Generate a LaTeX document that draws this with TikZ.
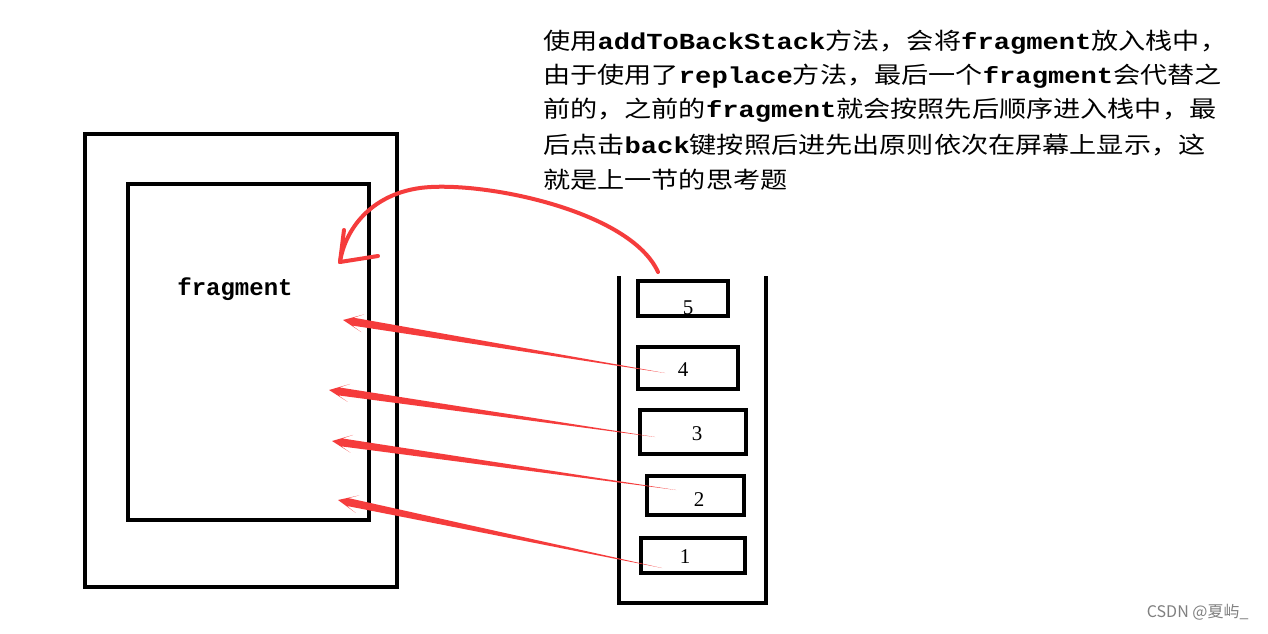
\documentclass[tikz,border=0pt]{standalone}
\usepackage{fontspec}
\newfontfamily\cjk{Noto Sans CJK SC}
\setmainfont{Liberation Serif}
\newfontfamily\mono{Liberation Mono}
\usetikzlibrary{calc}
\definecolor{ar}{RGB}{245,60,60}
\newcommand\mytaper[2]{%
 \fill[ar] (#1) -- ($(#2)!10pt!(#1)!4pt!90:(#1)$) -- ($(#2)!20pt!(#1)!9pt!90:(#1)$) -- (#2) -- ($(#2)!20pt!(#1)!9pt!-90:(#1)$) -- ($(#2)!10pt!(#1)!4pt!-90:(#1)$) -- cycle;}
\begin{document}
\begin{tikzpicture}[x=1pt,y=-1pt,
  box/.style={draw,line width=3.5pt},
  lbl/.style={font=\fontsize{21}{21}\selectfont},
  tx/.style={anchor=west,inner sep=0,xscale=1.18}]
\useasboundingbox (0,0) rectangle (1268,634);
\fill[white] (0,0) rectangle (1268,634);
\draw[box] (85,134) rectangle (397,587);
\draw[box] (128,184) rectangle (369,520);
\node[font=\mono\bfseries\fontsize{24}{24}\selectfont] (fr) at (235,289) {fragment};
\draw[box] (619,276) -- (619,603) -- (766,603) -- (766,276);
\draw[box] (638,281) rectangle (728,316);
\draw[box] (638,347) rectangle (738,389);
\draw[box] (640,410) rectangle (746,454);
\draw[box] (647,476) rectangle (744,515);
\draw[box] (641,538) rectangle (745,573);
\node[lbl] (n5) at (688,308) {5};
\node[lbl] (n4) at (683,370) {4};
\node[lbl] (n3) at (697,434) {3};
\node[lbl] (n2) at (699,500) {2};
\node[lbl] (n1) at (685,557) {1};
\coordinate (a4) at (665,373); \coordinate (b4) at (343,320);
\coordinate (a3) at (655,437); \coordinate (b3) at (329,390);
\coordinate (a2) at (676,490); \coordinate (b2) at (332,441);
\coordinate (a1) at (662,568); \coordinate (b1) at (338,500);
\mytaper{a4}{b4}\mytaper{a3}{b3}\mytaper{a2}{b2}\mytaper{a1}{b1}
\coordinate (c0) at (658,272); \coordinate (c1) at (340,262);
\draw[ar,line width=4pt,line cap=round] (c0) .. controls (630,210) and (480,180) .. (420,188)
  .. controls (370,195) and (345,230) .. (c1);
\draw[ar,line width=4pt,line cap=round] (c1) -- (378,256);
\draw[ar,line width=4pt,line cap=round] (c1) -- (344,230);
\begin{scope}[font=\cjk\fontsize{23}{23}\selectfont]
\node[tx] (t1) at (543,42) {使用{\mono\bfseries addToBackStack}方法，会将{\mono\bfseries fragment}放入栈中，};
\node[tx] (t2) at (543,76) {由于使用了{\mono\bfseries replace}方法，最后一个{\mono\bfseries fragment}会代替之};
\node[tx] (t3) at (543,110) {前的，之前的{\mono\bfseries fragment}就会按照先后顺序进入栈中，最};
\node[tx] (t4) at (543,145) {后点击{\mono\bfseries back}键按照后进先出原则依次在屏幕上显示，这};
\node[tx] (t5) at (543,180) {就是上一节的思考题};
\end{scope}
\node[anchor=east,text=gray,font=\cjk\fontsize{16}{16}\selectfont] (wm) at (1252,612) {CSDN @夏屿\_};
\end{tikzpicture}
\end{document}
